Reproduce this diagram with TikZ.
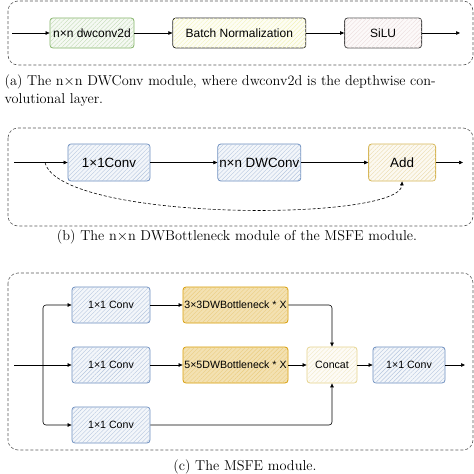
\documentclass[tikz,border=0pt]{standalone}
\usepackage{amsmath}
\usepackage{fontspec}
\setsansfont{Liberation Sans}
\usetikzlibrary{chains, positioning, arrows.meta, patterns.meta}

\definecolor{dwgreen}{HTML}{82B366}
\definecolor{normyellow}{HTML}{E8E870}
\definecolor{silupink}{HTML}{D8B8B8}
\definecolor{convblue}{HTML}{6C8EBF}
\definecolor{addyellow}{HTML}{D6B656}
\definecolor{bneckorange}{HTML}{D79B00}
\definecolor{catyellow}{HTML}{E6D38A}

\begin{document}
\begin{tikzpicture}[x=1pt, y=-1pt,
   >={Triangle[length=4pt, width=3.5pt]}, every path/.append style={line width=0.6pt},
   module/.style = {draw=black!65, densely dashed, rounded corners=10pt},
   box/.style = {draw=#1, rounded corners=3pt, line width=0.8pt, inner sep=0pt,
      fill=#1!8, postaction={pattern={Lines[angle=45, distance=3pt, line width=0.4pt]},
      pattern color=#1!50}},
   caption/.style = {font=\fontsize{14.3}{18}\selectfont}]
   \useasboundingbox (0,0) rectangle (474,474);
   % (a)
   \draw[module] (8,1) rectangle (473,65);
   \begin{scope}[start chain=a going right, node distance=38pt,
      every node/.append style={minimum height=30pt, font=\sffamily\fontsize{12}{14}\selectfont}]
   \node[box=dwgreen, on chain, minimum width=84pt] (dw) at (92,33) {n×n dwconv2d};
   \node[box=normyellow, draw=black!85, on chain, minimum width=133pt] (norm) {Batch Normalization};
   \node[box=silupink, draw=black!70, on chain, minimum width=77pt] (silu) {SiLU};
   \end{scope}
   \coordinate (ain) at (12,33);
   \coordinate (aout) at (460,33);
   \draw[->] (ain) -- (dw);
   \draw[->] (dw) -- (norm);
   \draw[->] (norm) -- (silu);
   \draw[->] (silu) -- (aout);
   \node[caption, anchor=west, align=left] (capa) at (1,91)
      {(a) The n$\times$n DWConv module, where dwconv2d is the depthwise con-\\volutional layer.};
   % (b)
   \draw[module] (8,128) rectangle (473,226);
   \begin{scope}[start chain=b going right, node distance=67pt,
      every node/.append style={minimum height=37pt, font=\sffamily\fontsize{13.4}{15}\selectfont}]
   \node[box=convblue, on chain, minimum width=82pt] (conv) at (109,162.5) {1×1Conv};
   \node[box=convblue, on chain, minimum width=83pt] (dwconv) {n×n DWConv};
   \node[box=addyellow, on chain, minimum width=67pt] (add) {Add};
   \end{scope}
   \coordinate (bin) at (14,162.5);
   \coordinate (bsplit) at (45,162.5);
   \coordinate (bout) at (463,162.5);
   \draw[->] (bin) -- (conv);
   \draw[->] (conv) -- (dwconv);
   \draw[->] (dwconv) -- (add);
   \draw[->] (add) -- (bout);
   \draw[->, densely dashed] (bsplit) .. controls (60,222) and (400,222) .. (add.south);
   \node[caption] (capb) at (237,237) {(b) The n$\times$n DWBottleneck module of the MSFE module.};
   % (c)
   \draw[module] (8,273) rectangle (473,450);
   \begin{scope}[every node/.append style={minimum height=36pt, font=\sffamily\fontsize{10.6}{12}\selectfont}]
   \node[box=convblue, minimum width=78pt] (conva) at (111,305) {1×1 Conv};
   \node[box=convblue, minimum width=78pt] (convb) at (111,365) {1×1 Conv};
   \node[box=convblue, minimum width=78pt] (convc) at (111,425) {1×1 Conv};
   \node[box=bneckorange, fill=bneckorange!30, minimum width=105pt] (bneck3) at (235.5,305) {3×3DWBottleneck * X};
   \node[box=bneckorange, fill=bneckorange!30, minimum width=105pt] (bneck5) at (235.5,365) {5×5DWBottleneck * X};
   \node[box=catyellow, minimum width=50pt] (concat) at (332,365) {Concat};
   \node[box=convblue, minimum width=72pt] (convout) at (409,365) {1×1 Conv};
   \end{scope}
   \coordinate (cin) at (14,365);
   \coordinate (csplit) at (43,365);
   \coordinate (cout) at (465,365);
   \draw[->] (cin) -- (convb);
   \draw[->, rounded corners=3pt] (csplit) |- (conva);
   \draw[->, rounded corners=3pt] (csplit) |- (convc);
   \draw[->] (conva) -- (bneck3);
   \draw[->] (convb) -- (bneck5);
   \draw[->, rounded corners=3pt] (bneck3) -| (concat);
   \draw[->, rounded corners=3pt] (convc) -| (concat);
   \draw[->] (bneck5) -- (concat);
   \draw[->] (concat) -- (convout);
   \draw[->] (convout) -- (cout);
   \node[caption] (capc) at (245,467) {(c) The MSFE module.};
\end{tikzpicture}
\end{document}
